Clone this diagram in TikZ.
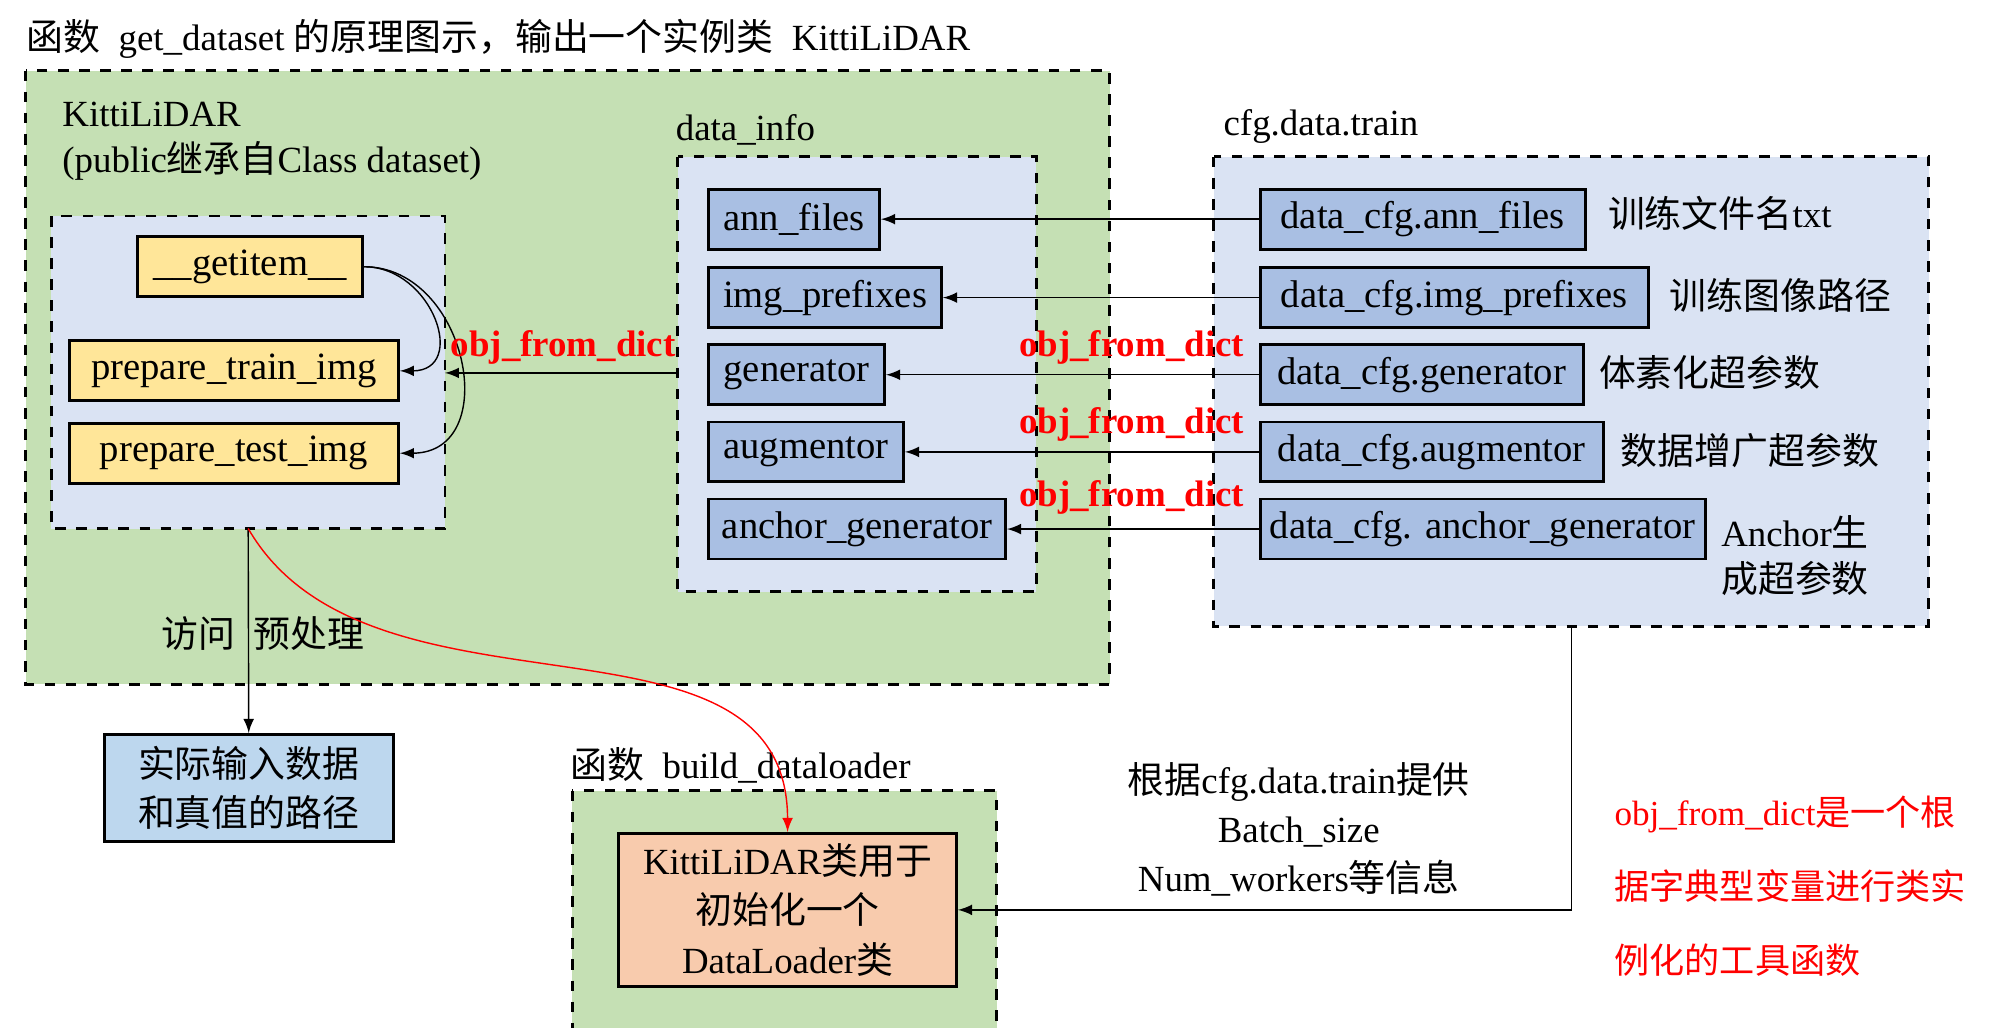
\documentclass[tikz,border=0pt]{standalone}
\usepackage{fontspec}
\setmainfont{Liberation Serif}
\newfontfamily\cjk{Noto Sans CJK SC}
\newcommand{\zh}[1]{{\cjk #1}}
\usetikzlibrary{positioning}
\definecolor{grn}{HTML}{C5E0B4}
\definecolor{lblue}{HTML}{DAE3F3}
\definecolor{mblue}{HTML}{A9BFE3}
\definecolor{ylw}{HTML}{FFE699}
\definecolor{sky}{HTML}{BDD7EE}
\definecolor{orng}{HTML}{F8CBAD}
\tikzset{
    grp/.style={draw, dashed, thick},
    item/.style={draw, thick, anchor=north west, inner sep=0pt, font=\fontsize{11}{13}\selectfont},
    lbl/.style={anchor=west, font=\fontsize{10.5}{13}\selectfont, inner sep=0pt},
    red lbl/.style={text=red, font=\fontsize{10.5}{13}\selectfont\bfseries, inner sep=0pt},
    arr/.style={-latex}
}
\begin{document}
\begin{tikzpicture}[x=0.01286cm, y=-0.01286cm]
    \useasboundingbox (0,0) rectangle (1560,799);
    \node[lbl] (title) at (20,30) {\zh{函数} \ get\_dataset \zh{的原理图示，输出一个实例类} \ KittiLiDAR};

    % KittiLiDAR part
    \draw[grp, fill=grn] (20,55) rectangle (863,532);
    \node[lbl, align=left] (kl) at (48,110) {KittiLiDAR\\(public\zh{继承自}Class dataset)};
    \draw[grp, fill=lblue] (40,168) rectangle (346,411);
    \coordinate (inE) at (346,290);
    \coordinate (inS) at (193,411);
    \node[item, fill=ylw] (get) at (106,183)
        {\parbox[c][0.6cm][c]{2.25cm}{\centering \_\_getitem\_\_}};
    \node[item, fill=ylw] (train) at (53,264)
        {\parbox[c][0.6cm][c]{3.29cm}{\centering prepare\_train\_img}};
    \node[item, fill=ylw] (test) at (53,328)
        {\parbox[c][0.6cm][c]{3.29cm}{\centering prepare\_test\_img}};
    \draw[arr] (get.east) to[out=0, in=0, looseness=1.6] (train.east);
    \draw[arr] (get.east) to[out=0, in=0, looseness=1.4] (test.east);

    % data_info
    \node[lbl] (dil) at (525,101) {data\_info};
    \draw[grp, fill=lblue] (527,122) rectangle (806,460);
    \coordinate (diW) at (527,290);
    \foreach \n/\t/\y/\w in {a/ann\_files/146/1.71, i/img\_prefixes/207/2.33,
        g/generator/267/1.76, u/augmentor/327/1.95, c/anchor\_generator/387/2.97}
        \node[item, fill=mblue] (d\n) at (550,\y) {\parbox[c][0.6cm][c]{\w cm}{\centering \t}};

    % cfg.data.train
    \node[lbl] (cfl) at (951,98) {cfg.data.train};
    \draw[grp, fill=lblue] (944,122) rectangle (1500,487);
    \coordinate (cfS) at (1222,487);
    \foreach \n/\t/\y/\w in {a/data\_cfg.ann\_files/146/3.25, i/data\_cfg.img\_prefixes/207/3.88,
        g/data\_cfg.generator/267/3.23, u/data\_cfg.augmentor/327/3.43,
        c/data\_cfg. anchor\_generator/387/4.45}
        \node[item, fill=mblue] (c\n) at (979,\y) {\parbox[c][0.6cm][c]{\w cm}{\centering \t}};
    \foreach \n in {a,i,g,u,c}
        \draw[arr] (c\n.west) -- (d\n.east);
    \node[lbl] at (1250,166) {\zh{训练文件名}txt};
    \node[lbl] at (1298,230) {\zh{训练图像路径}};
    \node[lbl] at (1243,290) {\zh{体素化超参数}};
    \node[lbl] at (1260,350) {\zh{数据增广超参数}};
    \node[lbl, align=left] at (1338,432) {Anchor\zh{生}\\\zh{成超参数}};
    \node[red lbl] at (880,270) {obj\_from\_dict};
    \node[red lbl] at (880,330) {obj\_from\_dict};
    \node[red lbl] at (880,387) {obj\_from\_dict};
    \node[red lbl] at (438,270) {obj\_from\_dict};
    \draw[arr] (diW) -- (inE);

    % outputs
    \node[draw, thick, fill=sky, anchor=north west, inner sep=0pt] (real) at (80,570)
        {\parbox[c][1.07cm][c]{2.89cm}{\centering\cjk\fontsize{10.5}{14}\selectfont 实际输入数据\\和真值的路径}};
    \draw[arr] (inS) -- (real.north);
    \node[lbl] at (125,493) {\zh{访问} \ \zh{预处理}};

    \node[lbl] (bdl) at (443,595) {\zh{函数} \ build\_dataloader};
    \draw[grp, fill=grn] (445,615) rectangle (775,810);
    \node[draw, thick, fill=orng, anchor=north west, inner sep=0pt] (dl) at (480,647)
        {\parbox[c][1.53cm][c]{3.38cm}{\centering\fontsize{10.5}{14}\selectfont KittiLiDAR\zh{类用于}\\\zh{初始化一个}\\DataLoader\zh{类}}};
    \draw[arr, red] (inS) to[out=-60, in=90] (dl.north);
    \draw[arr] (cfS) |- (dl.east);
    \node[align=center, font=\fontsize{10.5}{14}\selectfont, inner sep=0pt] at (1010,645)
        {\zh{根据}cfg.data.train\zh{提供}\\Batch\_size\\Num\_workers\zh{等信息}};
    \node[lbl, text=red, align=left, font=\fontsize{10}{21}\selectfont] at (1255,689)
        {obj\_from\_dict\zh{是一个根}\\\zh{据字典型变量进行类实}\\\zh{例化的工具函数}};
\end{tikzpicture}
\end{document}
